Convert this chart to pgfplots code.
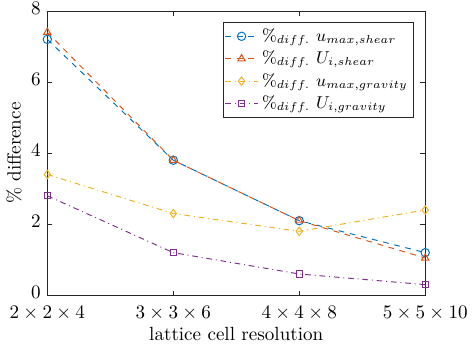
\documentclass[border=0pt]{standalone}
\usepackage{pgfplots}
\pgfplotsset{compat=1.18}
\definecolor{mblue}{rgb}{0,0.447,0.741}
\definecolor{mred}{rgb}{0.85,0.325,0.098}
\definecolor{myel}{rgb}{0.929,0.694,0.125}
\definecolor{mpur}{rgb}{0.494,0.184,0.556}
\definecolor{axgray}{rgb}{0.15,0.15,0.15}
\begin{document}
\begin{tikzpicture}
\begin{axis}[
  scale only axis, width=198pt, height=149pt,
  xmin=0, xmax=3, ymin=0, ymax=8,
  xtick={0,1,2,3},
  xticklabels={$2\times2\times4$,$3\times3\times6$,$4\times4\times8$,$5\times5\times10$},
  ytick={0,2,4,6,8},
  tick align=inside,
  axis line style={axgray, line width=0.4pt},
  tick style={axgray, line width=0.4pt},
  major tick length=2.5pt,
  xticklabel style={inner ysep=1pt, yshift=-4.5pt},
  yticklabel style={inner ysep=1pt, yshift=1.5pt},
  xlabel={lattice cell resolution},
  ylabel={\% difference},
  xlabel style={yshift=1pt},
  ylabel style={yshift=-2pt},
  legend style={at={(0.97,0.96)}, anchor=north east, draw=axgray, line width=0.4pt, font=\small, row sep=-0.5pt, inner sep=1pt,
    nodes={inner xsep=2pt}},
  legend cell align=left,
  every axis plot/.append style={line width=0.5pt, mark size=2.2pt, mark options={solid, fill=white}},
]
\addplot[mblue, dashed, mark=o] coordinates {(0,7.2) (1,3.8) (2,2.1) (3,1.2)};
\addlegendentry{$\%_{diff.}\ u_{max,shear}$}
\addplot[mred, dashed, mark=triangle] coordinates {(0,7.4) (1,3.8) (2,2.1) (3,1.05)};
\addlegendentry{$\%_{diff.}\ U_{i,shear}$}
\addplot[myel, dash dot, mark=diamond] coordinates {(0,3.4) (1,2.3) (2,1.8) (3,2.4)};
\addlegendentry{$\%_{diff.}\ u_{max,gravity}$}
\addplot[mpur, dash dot, mark=square, mark size=1.6pt] coordinates {(0,2.8) (1,1.2) (2,0.6) (3,0.3)};
\addlegendentry{$\%_{diff.}\ U_{i,gravity}$}
\end{axis}
\end{tikzpicture}
\end{document}
